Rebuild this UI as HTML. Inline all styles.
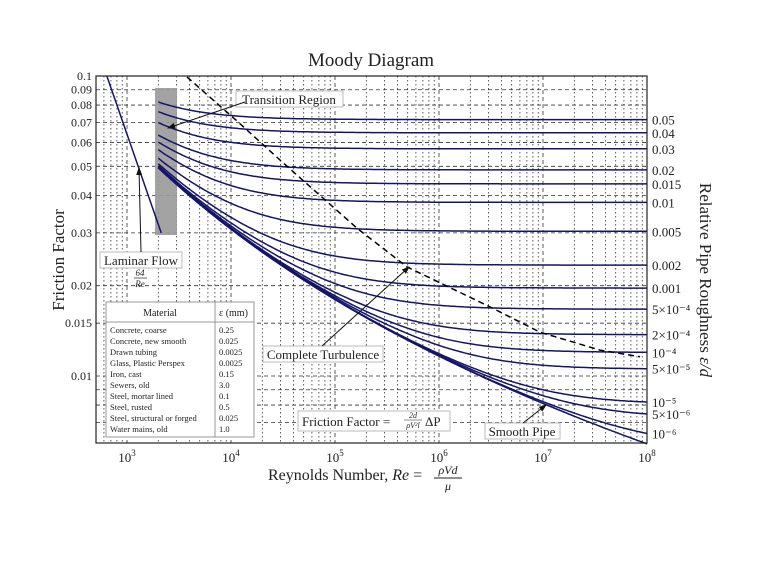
<!DOCTYPE html>
<html><head><meta charset="utf-8"><style>
body{margin:0;background:#fff;}
svg text{font-family:"Liberation Serif",serif;fill:#222;}
</style></head><body>
<svg id="chart" width="768" height="543" viewBox="0 0 768 543" xmlns="http://www.w3.org/2000/svg">
<rect width="768" height="543" fill="#fff"/>
<g id="grid"></g>
<rect x="155" y="88" width="22" height="147" fill="#999" opacity="0.9"/>
<g id="series"></g>
<g id="axes"></g>
<g id="annot"></g>
</svg>
<script>
const roughness=[0.05,0.04,0.03,0.02,0.015,0.01,0.005,0.002,0.001,5e-4,2e-4,1e-4,5e-5,1e-5,5e-6,1e-6,0];
const roughLabels=["0.05","0.04","0.03","0.02","0.015","0.01","0.005","0.002","0.001","5×10⁻⁴","2×10⁻⁴","10⁻⁴","5×10⁻⁵","10⁻⁵","5×10⁻⁶","10⁻⁶",""];
const yTicks=[0.1,0.09,0.08,0.07,0.06,0.05,0.04,0.03,0.02,0.015,0.01];
const yTickLabels=["0.1","0.09","0.08","0.07","0.06","0.05","0.04","0.03","0.02","0.015","0.01"];
const yExtraGrid=[0.009,0.008,0.007];
const xDecades=[3,4,5,6,7,8];
const turbRe=[3776,11170,29580,162900,492000,3.09e6,9.35e6,3.53e7,8.57e7];
const turbF=[0.0992,0.0713,0.0525,0.0311,0.0231,0.0170,0.0140,0.0122,0.0116];
const laminarRe=[640,2133];
const reStart=2000, reEnd=1e8;

const L=96,R=647,T=76,B=443;
const xs=re=>127+104*(Math.log10(re)-3);
const ys=f=>76+300*(-1-Math.log10(f));
const NS="http://www.w3.org/2000/svg";
function mk(tag,attrs,parent){const e=document.createElementNS(NS,tag);for(const k in attrs)e.setAttribute(k,attrs[k]);if(parent)parent.appendChild(e);return e;}
const grid=document.getElementById('grid'),series=document.getElementById('series'),axes=document.getElementById('axes'),annot=document.getElementById('annot');

// grid
for(let d=2;d<8;d++)for(let m=1;m<10;m++){const x=xs(m*Math.pow(10,d));if(x<L||x>R)continue;
 const g=mk('line',{x1:x,x2:x,y1:T,y2:B,stroke:'#333','stroke-width':0.8,'stroke-dasharray':m==1?'4,3':'1.5,2.5'},grid);
 
 }
yTicks.concat(yExtraGrid).forEach(f=>{const y=ys(f);
 const g=mk('line',{x1:L,x2:R,y1:y,y2:y,stroke:'#333','stroke-width':0.8,'stroke-dasharray':'4,3'},grid);
 
 });

// colebrook
function cole(re,e){let f=0.02;for(let i=0;i<60;i++){const v=-2*Math.log10(e/3.7+2.51/(re*Math.sqrt(f)));f=1/(v*v);}return f;}
roughness.forEach((e,i)=>{let d='';for(let k=0;k<=200;k++){const lr=Math.log10(reStart)+(Math.log10(reEnd)-Math.log10(reStart))*k/200;const re=Math.pow(10,lr);
 const f=cole(re,e);d+=(k?'L':'M')+xs(re).toFixed(1)+','+ys(f).toFixed(1);}
 const p=mk('path',{d:d,fill:'none',stroke:'#14146a','stroke-width':1.5},series);
 
 
 if(roughLabels[i]){const t=mk('text',{x:652,y:ys(cole(reEnd,e))+5,'font-size':13},axes);t.textContent=roughLabels[i];
 
 }});
// laminar
{const p=mk('line',{x1:xs(laminarRe[0]),y1:ys(64/laminarRe[0]),x2:xs(laminarRe[1]),y2:ys(64/laminarRe[1]),stroke:'#14146a','stroke-width':1.5},series);
 
 }
// dashed turbulence
{let d='';turbRe.forEach((r,i)=>{d+=(i?'L':'M')+xs(r).toFixed(1)+','+ys(turbF[i]).toFixed(1);});
 const p=mk('path',{d:d,fill:'none',stroke:'#000','stroke-width':1.5,'stroke-dasharray':'6,4'},series);
 
 }

// axes frame
{const r=mk('rect',{x:L,y:T,width:R-L,height:B-T,fill:'none',stroke:'#222','stroke-width':1.2},axes);
 
 }
yTicks.forEach((f,i)=>{const t=mk('text',{x:L-4,y:ys(f)+4,'font-size':12,'text-anchor':'end'},axes);t.textContent=yTickLabels[i];
 
 });
xDecades.forEach(d=>{const t=mk('text',{x:xs(Math.pow(10,d)),y:462,'font-size':13,'text-anchor':'middle'},axes);
 t.innerHTML='10<tspan dy="-6" font-size="9">'+d+'</tspan>';
 
 });
</script>
<svg width="0" height="0"></svg>
<script>
const A=document.getElementById('annot');
A.innerHTML=`
<defs><marker id="ar" markerWidth="8" markerHeight="8" refX="7" refY="4" orient="auto"><path d="M0,1 L8,4 L0,7 Z" fill="#111"/></marker></defs>
<text x="371" y="66" font-size="19" text-anchor="middle">Moody Diagram</text>
<text transform="translate(64,260) rotate(-90)" font-size="17" text-anchor="middle">Friction Factor</text>
<text transform="translate(700,280) rotate(90)" font-size="17" text-anchor="middle">Relative Pipe Roughness <tspan font-style="italic">ε/d</tspan></text>
<g><text x="268" y="480" font-size="16">Reynolds Number, <tspan font-style="italic">Re</tspan> =</text>
<text x="448" y="474" font-size="12" font-style="italic" text-anchor="middle">ρVd</text><line x1="434" x2="462" y1="478" y2="478" stroke="#222"/><text x="448" y="490" font-size="12" font-style="italic" text-anchor="middle">μ</text></g>
<g><rect x="236" y="91" width="107" height="16" fill="#fff" stroke="#bbb"/><text x="289" y="104" font-size="13" text-anchor="middle">Transition Region</text>
<line x1="245" y1="102" x2="168" y2="128" stroke="#111" marker-end="url(#ar)"/></g>
<g><rect x="100" y="252" width="82" height="16" fill="#fff" stroke="#bbb"/><text x="141" y="265" font-size="13" text-anchor="middle">Laminar Flow</text>
<text x="140" y="276" font-size="9" font-style="italic" text-anchor="middle">64</text><line x1="134" x2="147" y1="278" y2="278" stroke="#222" stroke-width="0.7"/><text x="140" y="287" font-size="9" font-style="italic" text-anchor="middle">Re</text>
<line x1="141" y1="252" x2="139" y2="168" stroke="#111" marker-end="url(#ar)"/></g>
<g><rect x="263" y="346" width="120" height="16" fill="#fff" stroke="#bbb"/><text x="323" y="359" font-size="13" text-anchor="middle">Complete Turbulence</text>
<line x1="322" y1="346" x2="409" y2="267" stroke="#111" marker-end="url(#ar)"/></g>
<g><rect x="298" y="411" width="152" height="20" fill="#fff" stroke="#bbb"/><text x="302" y="426" font-size="13">Friction Factor =</text>
<text x="413" y="418" font-size="8" font-style="italic" text-anchor="middle">2d</text><line x1="404" x2="422" y1="420" y2="420" stroke="#222" stroke-width="0.6"/><text x="413" y="428" font-size="8" font-style="italic" text-anchor="middle">ρV²l</text><text x="425" y="426" font-size="13">ΔP</text></g>
<g><rect x="485" y="423" width="75" height="16" fill="#fff" stroke="#bbb"/><text x="522" y="436" font-size="13" text-anchor="middle">Smooth Pipe</text>
<line x1="523" y1="423" x2="546" y2="405" stroke="#111" marker-end="url(#ar)"/></g>
<g font-size="8.5">
<rect x="106" y="302" width="148" height="135" fill="#fff" stroke="#999"/>
<line x1="215" x2="215" y1="302" y2="437" stroke="#999"/><line x1="106" x2="254" y1="322" y2="322" stroke="#999"/>
<text x="160" y="316" font-size="10" text-anchor="middle">Material</text><text x="219" y="316" font-size="10">ε (mm)</text>
<text x="110" y="333">Concrete, coarse</text><text x="219" y="333">0.25</text>
<text x="110" y="344">Concrete, new smooth</text><text x="219" y="344">0.025</text>
<text x="110" y="355">Drawn tubing</text><text x="219" y="355">0.0025</text>
<text x="110" y="366">Glass, Plastic Perspex</text><text x="219" y="366">0.0025</text>
<text x="110" y="377">Iron, cast</text><text x="219" y="377">0.15</text>
<text x="110" y="388">Sewers, old</text><text x="219" y="388">3.0</text>
<text x="110" y="399">Steel, mortar lined</text><text x="219" y="399">0.1</text>
<text x="110" y="410">Steel, rusted</text><text x="219" y="410">0.5</text>
<text x="110" y="421">Steel, structural or forged</text><text x="219" y="421">0.025</text>
<text x="110" y="432">Water mains, old</text><text x="219" y="432">1.0</text>
</g>`;
</script>
</body></html>
